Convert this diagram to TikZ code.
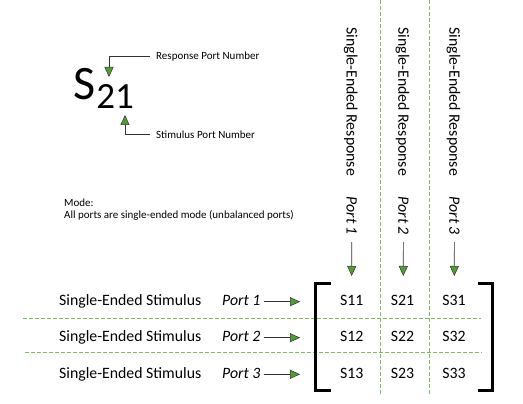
\documentclass[tikz,border=0pt]{standalone}
\usepackage{fontspec}
\setmainfont{Carlito}
\usetikzlibrary{arrows.meta}
\definecolor{tipgreen}{RGB}{78,160,46}
\definecolor{dashgreen}{RGB}{120,190,85}
\definecolor{linegray}{RGB}{50,50,50}
\tikzset{
  big/.style={font=\fontsize{15.8}{19}\selectfont, inner sep=0pt},
  small/.style={font=\fontsize{11}{13}\selectfont, inner sep=0pt},
  conn/.style={draw=linegray, line width=0.7pt,
    -{Triangle[length=10pt,width=9pt,fill=tipgreen,line width=0.5pt]}},
  grid/.style={draw=dashgreen, line width=0.9pt, dash pattern=on 4pt off 2pt},
  bracket/.style={draw=black, line width=3pt, line cap=rect}
}
\begin{document}
\begin{tikzpicture}[x=1pt,y=-1pt]
\useasboundingbox (0,0) rectangle (523,404);
% grid lines
\draw[grid] (380,0) -- (380,395);
\draw[grid] (429,0) -- (429,395);
\draw[grid] (23,318) -- (481,318);
\draw[grid] (25,352) -- (482,352);
% S21 notation
\node[anchor=base west, inner sep=0pt] (s21) at (73,100)
  {\fontsize{48}{48}\selectfont S\kern1pt\raisebox{-8.3pt}{\fontsize{37}{37}\selectfont 21}};
\node[small, anchor=base west] (resp) at (156,59.3) {Response Port Number};
\node[small, anchor=base west] (stim) at (156,138.6) {Stimulus Port Number};
\coordinate (resptip) at (109,77);
\coordinate (stimtip) at (125,115);
\draw[conn] ([xshift=-6pt]resp.west) -| (resptip);
\draw[conn] ([xshift=-6pt]stim.west) -| (stimtip);
% mode text
\node[small, anchor=base west] (mode1) at (64,206.2) {Mode:};
\node[small, anchor=base west] (mode2) at (64,218.8) {All ports are single-ended mode (unbalanced ports)};
% column headers
\foreach \i/\x in {1/346.7,2/398.3,3/449.3}{
  \node[big, rotate=-90, anchor=base west] (cr\i) at (\x,27.5) {Single-Ended Response};
  \node[big, rotate=-90, anchor=base west] (cp\i) at (\x,196.5) {\itshape Port \i};
  \coordinate (ct\i) at (\x+5,276);
  \draw[conn] ([yshift=-7pt]cp\i.east) -- (ct\i);
}
% row headers
\foreach \i/\y in {1/305.7,2/341.7,3/378.3}{
  \node[big, anchor=base west] (rs\i) at (59,\y) {Single-Ended Stimulus};
  \node[big, anchor=base west] (rp\i) at (222,\y) {\itshape Port \i};
  \coordinate (rt\i) at (300,\y-4);
  \draw[conn] ([xshift=3pt]rp\i.east |- rt\i) -- (rt\i);
}
% matrix
\foreach \r/\y in {1/305.7,2/341.7,3/378.3}{
  \foreach \c/\x in {1/351.7,2/402.5,3/454}{
    \node[big, anchor=base] (m\c\r) at (\x,\y) {S\c\r};
  }
}
\draw[bracket] (329,283) -- (315,283) -- (315,390) -- (329,390);
\draw[bracket] (479,283) -- (492,283) -- (492,390) -- (479,390);
\end{tikzpicture}
\end{document}
